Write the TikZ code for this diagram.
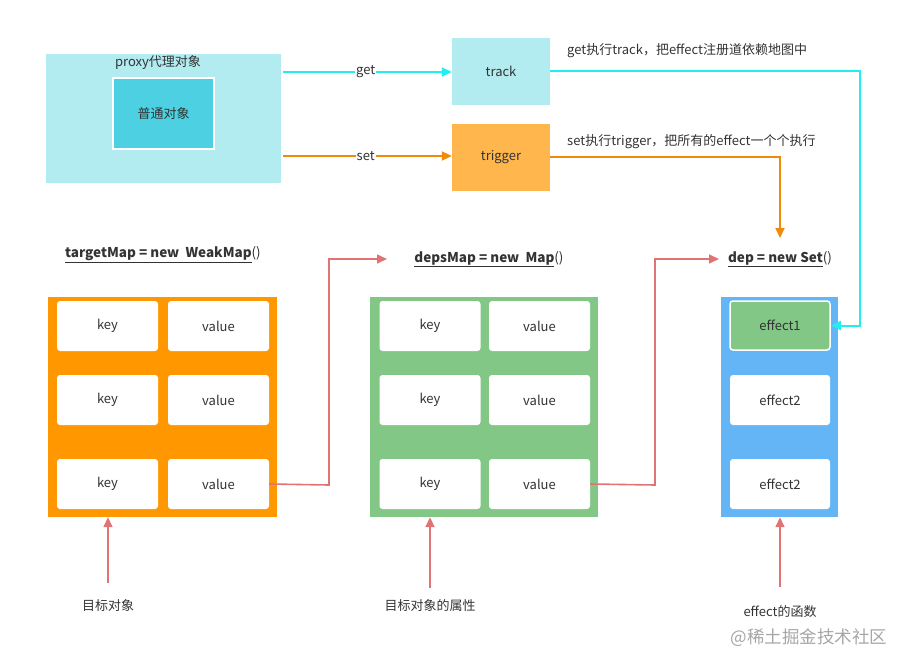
\documentclass[tikz,border=0pt]{standalone}
\usepackage{fontspec}
\setmainfont{Noto Sans CJK SC}
\usetikzlibrary{arrows.meta}
\definecolor{lcyan}{HTML}{B2EBF0}
\definecolor{dcyan}{HTML}{4DD0E1}
\definecolor{lorange}{HTML}{FFB74D}
\definecolor{morange}{HTML}{FF9800}
\definecolor{mgreen}{HTML}{82C785}
\definecolor{mblue}{HTML}{64B5F6}
\definecolor{cyanline}{HTML}{22EEF2}
\definecolor{orangeline}{HTML}{EF8A0B}
\definecolor{redline}{HTML}{E07474}
\definecolor{txt}{HTML}{333333}
\tikzset{
  cell/.style={fill=white,rounded corners=3pt,inner sep=0pt,minimum width=101pt,minimum height=50pt,text=txt,font=\fontsize{13}{15}\selectfont},
  lbl/.style={inner sep=1pt,text=txt,font=\fontsize{13}{15}\selectfont},
  head/.style={inner sep=1pt,text=txt,font=\fontsize{13.5}{16}\selectfont\bfseries},
  cyanarrow/.style={draw=cyanline,line width=2pt,-{Triangle[length=10pt,width=9pt]}},
  orangearrow/.style={draw=orangeline,line width=2pt,-{Triangle[length=10pt,width=9pt]}},
  redarrow/.style={draw=redline,line width=1.6pt,-{Triangle[length=10pt,width=9pt]}},
}
\begin{document}
\begin{tikzpicture}[x=1pt,y=-1pt]
\useasboundingbox (0,0) rectangle (910,669);
% proxy
\node[fill=lcyan,inner sep=0pt,minimum width=235pt,minimum height=129pt] (proxy) at (163.5,118.5) {};
\node[lbl] (proxyt) at (158,63) {proxy代理对象};
\node[fill=dcyan,draw=white,line width=2pt,inner sep=0pt,minimum width=101pt,minimum height=71pt,text=txt,font=\fontsize{13}{15}\selectfont] (plain) at (163.5,113.5) {普通对象};
% track / trigger
\node[fill=lcyan,inner sep=0pt,minimum width=98pt,minimum height=67pt,text=txt,font=\fontsize{13}{15}\selectfont] (track) at (501,71.5) {track};
\node[fill=lorange,inner sep=0pt,minimum width=98pt,minimum height=67pt,text=txt,font=\fontsize{13}{15}\selectfont] (trigger) at (501,157.5) {trigger};
\coordinate (g1) at (283,72);
\coordinate (s1) at (283,156);
\draw[cyanarrow] (g1) -- (track.west |- g1) node[pos=0.49,fill=white,lbl] (getl) {get};
\draw[orangearrow] (s1) -- (trigger.west |- s1) node[pos=0.49,fill=white,lbl] (setl) {set};
\node[lbl,anchor=west] (gett) at (566,51) {get执行track，把effect注册道依赖地图中};
\node[lbl,anchor=west] (sett) at (566,142) {set执行trigger，把所有的effect一个个执行};
% headings
\node[head] (tmh) at (163,255) {\underline{targetMap = new\ \ WeakMap}{\mdseries()}};
\node[head] (dmh) at (489,259) {\underline{depsMap = new\ \ Map}{\mdseries()}};
\node[head] (deph) at (780,259) {\underline{dep = new Set}{\mdseries()}};
% containers
\node[fill=morange,inner sep=0pt,minimum width=229pt,minimum height=220pt] (tm) at (162.5,407) {};
\node[fill=mgreen,inner sep=0pt,minimum width=228pt,minimum height=220pt] (dm) at (484,407) {};
\node[fill=mblue,inner sep=0pt,minimum width=117pt,minimum height=220pt] (dp) at (779.5,407) {};
% cells targetMap
\node[cell] (tk1) at (107.5,326) {key};
\node[cell] (tv1) at (218.5,326) {value};
\node[cell] (tk2) at (107.5,400) {key};
\node[cell] (tv2) at (218.5,400) {value};
\node[cell] (tk3) at (107.5,484) {key};
\node[cell] (tv3) at (218.5,484) {value};
% cells depsMap
\node[cell] (dk1) at (430,326) {key};
\node[cell] (dv1) at (539.5,326) {value};
\node[cell] (dk2) at (430,400) {key};
\node[cell] (dv2) at (539.5,400) {value};
\node[cell] (dk3) at (430,484) {key};
\node[cell] (dv3) at (539.5,484) {value};
% cells dep
\node[cell,fill=mgreen,draw=white,line width=1.5pt,minimum width=100pt,minimum height=49pt] (e1) at (780,325.5) {effect1};
\node[cell,minimum width=100pt] (e2) at (780,400) {effect2};
\node[cell,minimum width=100pt] (e3) at (780,484) {effect2};
% track -> effect1
\draw[cyanarrow] (track.east |- 0,71) -- (860,71) |- (e1.east);
% trigger -> dep
\coordinate (o1) at (780,238);
\draw[orangearrow] (trigger.east |- 0,157) -| (o1);
% red connectors
\coordinate (r1) at (387,259);
\coordinate (r2) at (719,259);
\draw[redarrow] (tv3.east) -- (329,485) |- (r1);
\draw[redarrow] (dv3.east) -- (655,485) |- (r2);
% bottom arrows
\node[lbl] (tgt) at (108,606) {目标对象};
\node[lbl] (tgtp) at (430,606) {目标对象的属性};
\node[lbl] (eff) at (780,612) {effect的函数};
\coordinate (b1) at (108,583);
\coordinate (b2) at (430,588);
\coordinate (b3) at (780,587);
\draw[redarrow] (b1) -- (b1 |- tm.south);
\draw[redarrow] (b2) -- (b2 |- dm.south);
\draw[redarrow] (b3) -- (b3 |- dp.south);
% watermark
\node[inner sep=0pt,text=black!35,font=\fontsize{17.5}{20}\selectfont] (wm) at (809,638) {@稀土掘金技术社区};
\end{tikzpicture}
\end{document}
